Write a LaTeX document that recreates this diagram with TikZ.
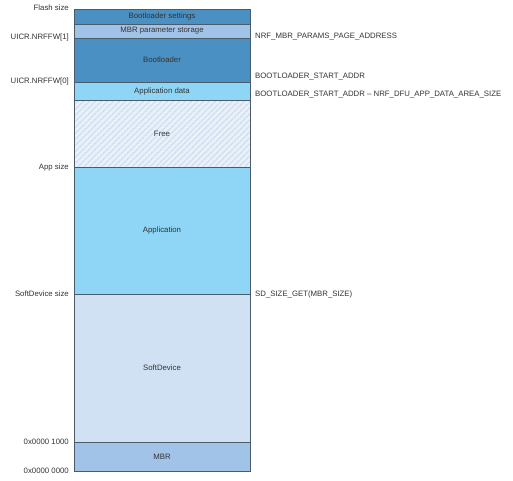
\documentclass[tikz,border=0pt]{standalone}
\usepackage{fontspec}
\setmainfont{Liberation Sans}
\usetikzlibrary{positioning, patterns, patterns.meta}
\definecolor{bootblue}{HTML}{4A90C2}
\definecolor{mbrblue}{HTML}{A2C3E8}
\definecolor{appblue}{HTML}{8FD5F5}
\definecolor{freebg}{HTML}{E8F0FA}
\definecolor{freeline}{HTML}{CCDBEE}
\definecolor{sdblue}{HTML}{D0E1F3}
\definecolor{edge}{HTML}{4B5B69}
\definecolor{txt}{HTML}{333333}
\tikzstyle{region} = [rectangle, draw=edge, line width=0.9pt, minimum width=176pt, inner sep=0pt, outer sep=0pt, text=txt, font=\fontsize{7.8}{9}\selectfont]
\tikzstyle{addr} = [inner sep=0pt, text=txt, font=\fontsize{7.8}{9}\selectfont]

\begin{document}
\begin{tikzpicture}[x=1pt, y=-1pt, node distance=0pt]
    \useasboundingbox (0,0) rectangle (513,480);

    % Flash regions, top to bottom
    \node (blset) [region, fill=bootblue, minimum height=15pt, below right] at (74,9) {Bootloader settings};
    \node (mbrpar) [region, fill=mbrblue, minimum height=14pt, below=of blset] {MBR parameter storage};
    \node (boot) [region, fill=bootblue, minimum height=44pt, below=of mbrpar] {Bootloader};
    \node (appdata) [region, fill=appblue, minimum height=18pt, below=of boot] {Application data};
    \node (free) [region, preaction={fill=freebg}, pattern={Lines[angle=45, distance=4pt, line width=1.3pt]}, pattern color=freeline, minimum height=67pt, below=of appdata] {Free};
    \node (app) [region, fill=appblue, minimum height=127pt, below=of free] {Application};
    \node (sd) [region, fill=sdblue, minimum height=148pt, below=of app] {SoftDevice};
    \node (mbr) [region, fill=mbrblue, minimum height=29pt, below=of sd] {MBR};

    % Boundary names on the left
    \node (lflash) [addr, left=5pt of blset.north west, yshift=1pt] {Flash size};
    \node (luicra) [addr, left=5pt of mbrpar.south west, yshift=1pt] {UICR.NRFFW[1]};
    \node (luicrb) [addr, left=5pt of boot.south west, yshift=1pt] {UICR.NRFFW[0]};
    \node (lapp) [addr, left=5pt of free.south west] {App size};
    \node (lsd) [addr, left=5pt of app.south west] {SoftDevice size};
    \node (lmbrtop) [addr, left=5pt of sd.south west] {0x0000 1000};
    \node (lzero) [addr, left=5pt of mbr.south west] {0x0000 0000};

    % Boundary addresses on the right
    \node (rmbr) [addr, right=5pt of mbrpar.south east, yshift=1.5pt] {NRF\_MBR\_PARAMS\_PAGE\_ADDRESS};
    \node (rboot) [addr, right=5pt of boot.south east, yshift=5pt] {BOOTLOADER\_START\_ADDR};
    \node (rappdata) [addr, right=5pt of appdata.south east, yshift=5pt] {BOOTLOADER\_START\_ADDR – NRF\_DFU\_APP\_DATA\_AREA\_SIZE};
    \node (rsd) [addr, right=5pt of app.south east] {SD\_SIZE\_GET(MBR\_SIZE)};

\end{tikzpicture}
\end{document}
